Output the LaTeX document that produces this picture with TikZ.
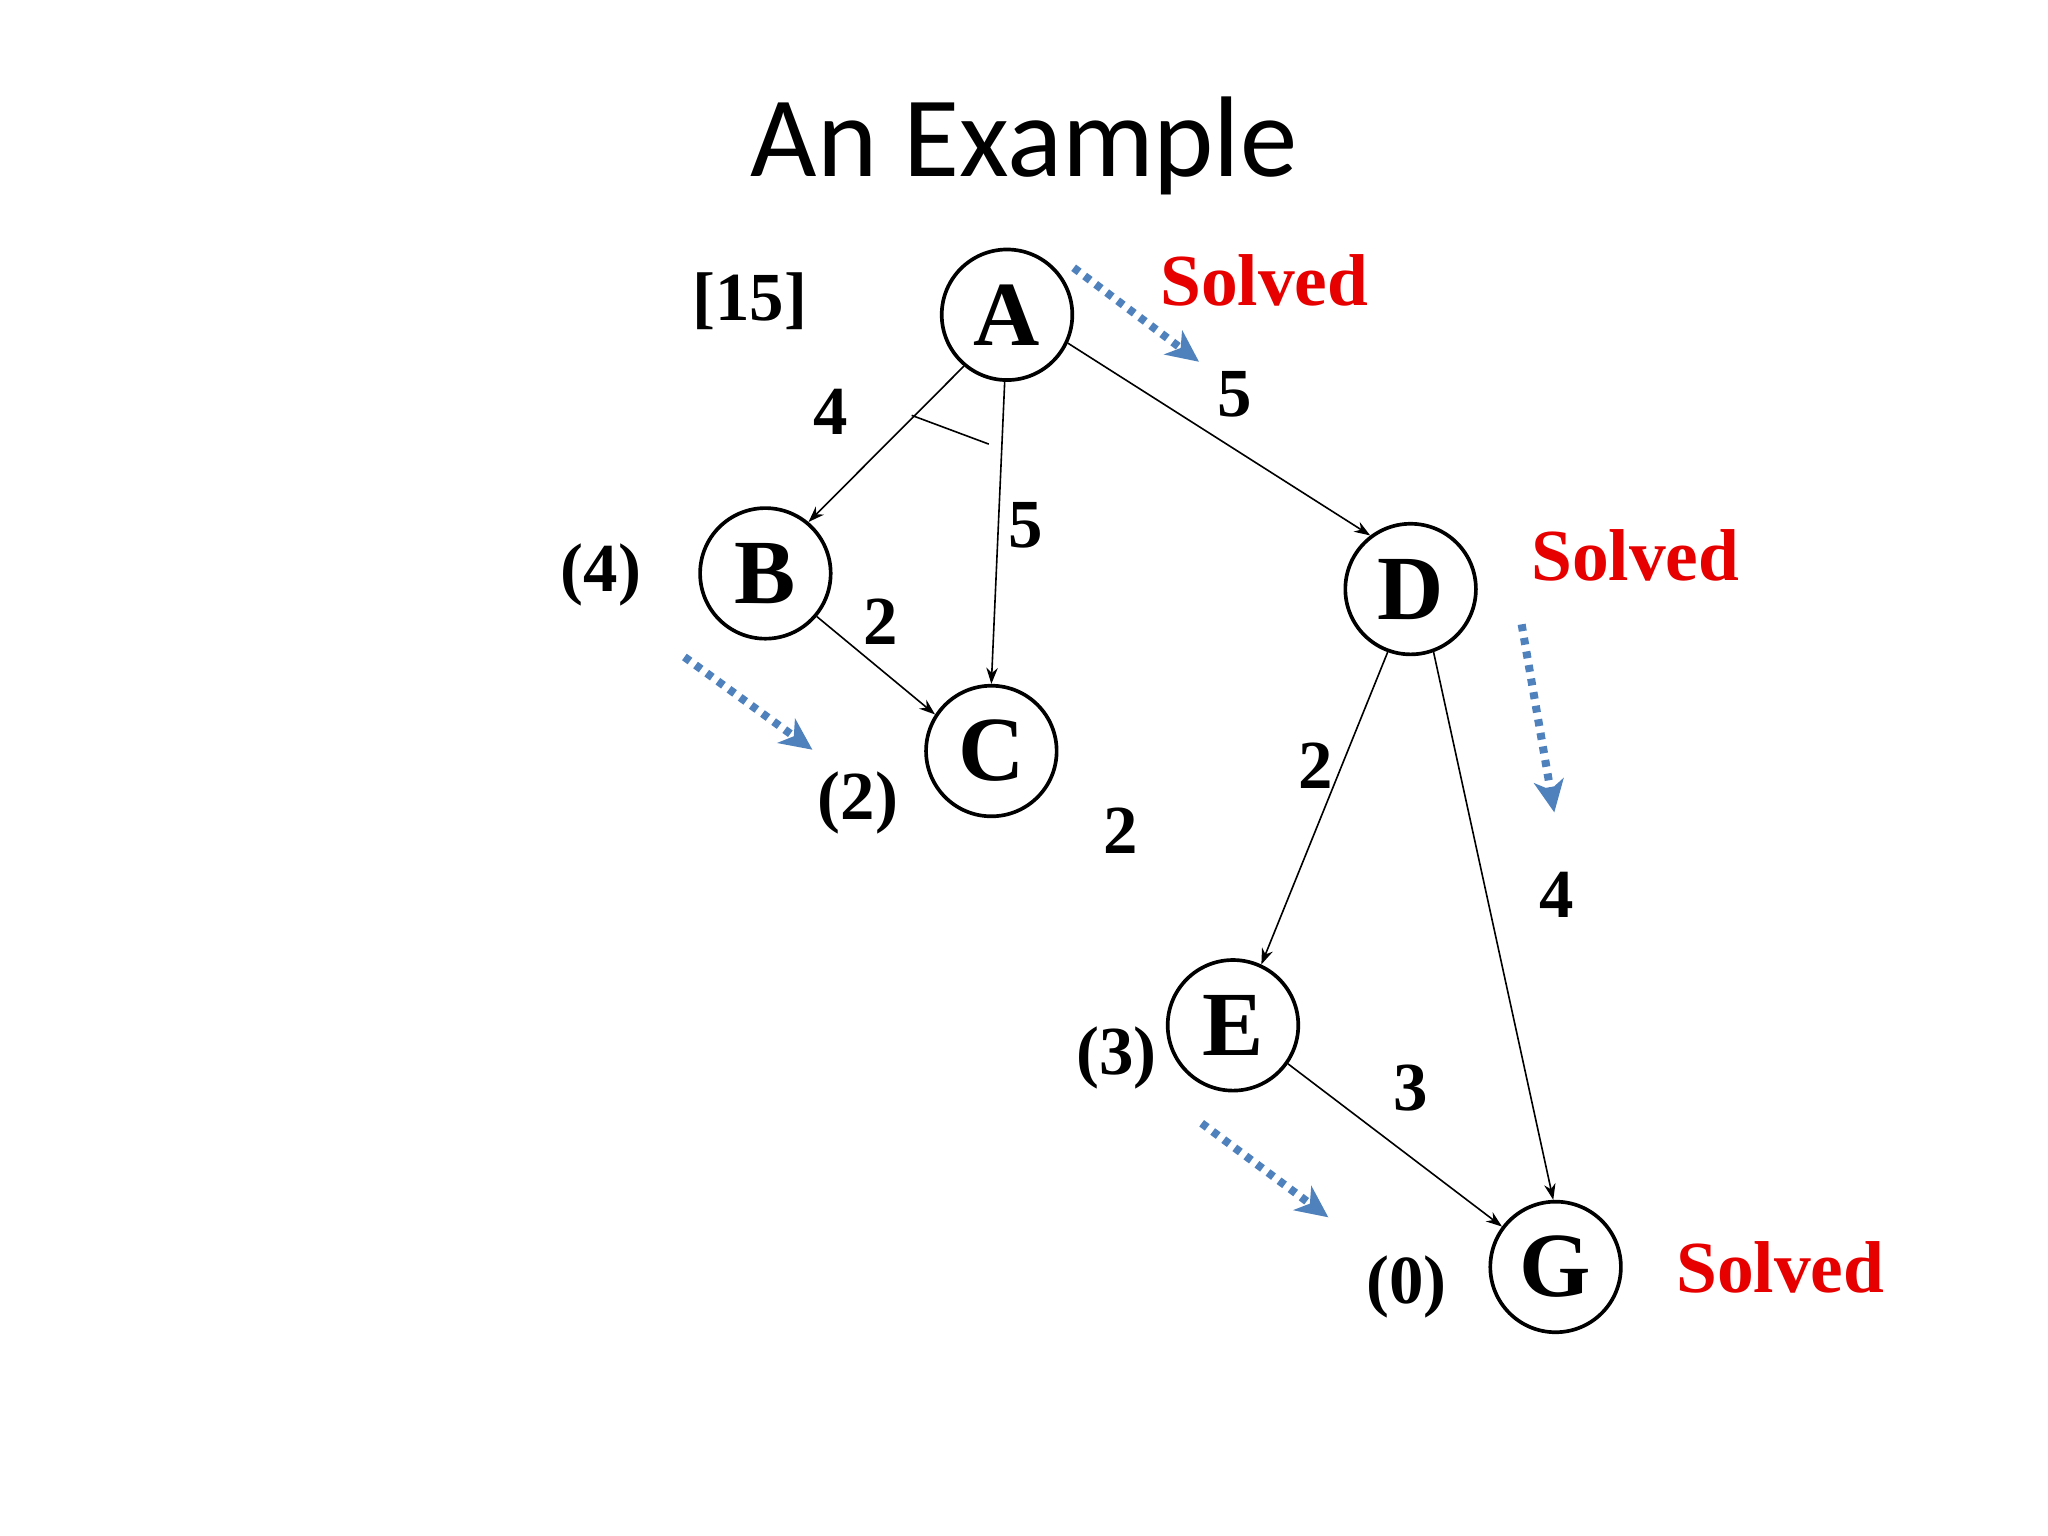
\documentclass[tikz,border=0pt]{standalone}
\usepackage{fontspec}
\setmainfont{Liberation Serif}
\newfontfamily\titlefont{Carlito}
\usetikzlibrary{arrows.meta}
\definecolor{blu}{RGB}{79,129,189}
\definecolor{solv}{RGB}{230,0,0}
\tikzset{
 nd/.style={circle,draw,line width=1.6pt,minimum size=2cm,inner sep=0pt,font=\fontsize{40}{40}\selectfont\bfseries},
 ed/.style={line width=0.7pt,-{Stealth[length=7pt,width=5pt]}},
 wt/.style={font=\fontsize{30}{30}\selectfont\bfseries},
 sv/.style={font=\fontsize{32}{32}\selectfont\bfseries,text=solv},
 hint/.style={blu,line width=3.5pt,dash pattern=on 3pt off 3pt,-{Stealth[length=14pt,width=13pt,inset=4pt]}}
}
\begin{document}
\begin{tikzpicture}[x=0.02cm,y=-0.02cm]
\useasboundingbox (0,0) rectangle (1568,1176);
\node[font=\titlefont\fontsize{50}{50}\selectfont] (t) at (784,112) {An Example};
\node[nd] (A) at (771,241) {A};
\node[nd] (B) at (586,439) {B};
\node[nd] (C) at (759,575) {C};
\node[nd] (D) at (1080,451) {D};
\node[nd] (E) at (944,785) {E};
\node[nd] (G) at (1191,970) {G};
\draw[ed] (A.-130) -- (B.50);
\draw[ed] (A.-92) -- (C.90);
\draw[ed] (A.-25) -- (D.127);
\draw[ed] (B.-40) -- (C.147);
\draw[ed] (D.-110) -- (E.65);
\draw[ed] (D.-70) -- (G.92);
\draw[ed] (E.-35) -- (G.143);
\coordinate (p1) at (698,318); \coordinate (p2) at (757,340);
\draw[line width=0.7pt] (p1) -- (p2);
\node[wt] (w1) at (636,315) {4};
\node[wt] (w2) at (785,402) {5};
\node[wt] (w3) at (945,302) {5};
\node[wt] (w4) at (674,476) {2};
\node[wt] (w5) at (858,636) {2};
\node[wt] (w6) at (1007,586) {2};
\node[wt] (w7) at (1192,685) {4};
\node[wt] (w8) at (1080,833) {3};
\node[wt] (h1) at (460,440) {(4)};
\node[wt] (h2) at (657,615) {(2)};
\node[wt] (h3) at (855,810) {(3)};
\node[wt] (h4) at (1077,985) {(0)};
\node[wt] (h5) at (574,231) {[15]};
\node[sv] (s1) at (968,215) {Solved};
\node[sv] (s2) at (1252,425) {Solved};
\node[sv] (s3) at (1363,970) {Solved};
\coordinate (a1) at (822,205); \coordinate (a2) at (918,277);
\coordinate (b1) at (1165,478); \coordinate (b2) at (1190,622);
\coordinate (c1) at (524,503); \coordinate (c2) at (622,574);
\coordinate (d1) at (920,860); \coordinate (d2) at (1017,932);
\draw[hint] (a1) -- (a2);
\draw[hint] (b1) -- (b2);
\draw[hint] (c1) -- (c2);
\draw[hint] (d1) -- (d2);
\end{tikzpicture}
\end{document}
